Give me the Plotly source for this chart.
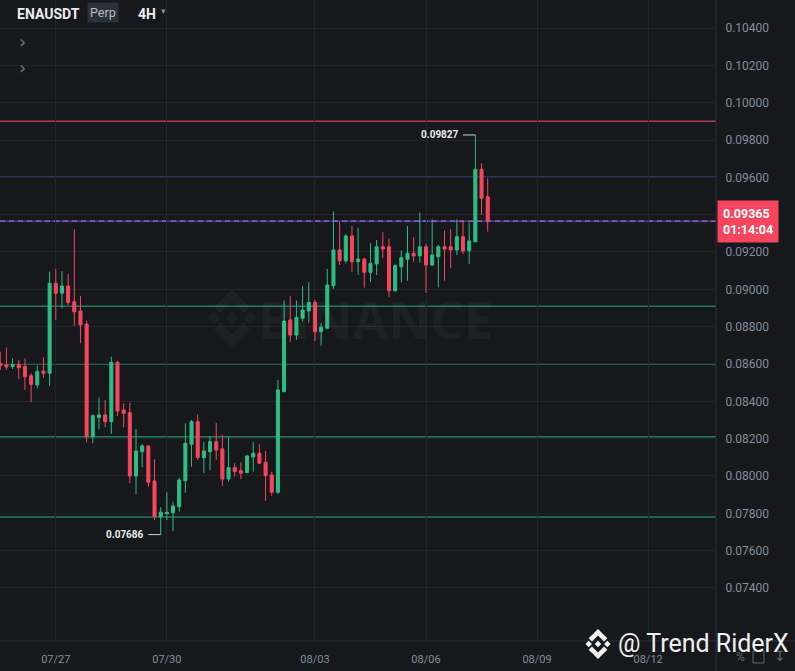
import plotly.graph_objects as go
import pandas as pd

# ---------------- data ----------------
start_time = "2024-07-25 12:00"
n_candles = 80
times = pd.date_range(start_time, periods=n_candles, freq="4h")

opens = [0.08602, 0.08595, 0.08586, 0.08596, 0.08586, 0.08537, 0.08488, 0.08562, 0.08550, 0.09032,
         0.08979, 0.09018, 0.08934, 0.08884, 0.08814, 0.08211, 0.08314, 0.08327, 0.08291, 0.08609,
         0.08354, 0.08339, 0.08000, 0.08130, 0.08161, 0.07973, 0.07782, 0.07799, 0.07803, 0.07836,
         0.07975, 0.08170, 0.08291, 0.08098, 0.08130, 0.08184, 0.08145, 0.07984, 0.08045, 0.08028,
         0.08018, 0.08102, 0.08122, 0.08073, 0.08005, 0.07913, 0.08452, 0.08836, 0.08755, 0.08845,
         0.08884, 0.08930, 0.08773, 0.08791, 0.09019, 0.09211, 0.09153, 0.09286, 0.09148, 0.09162,
         0.09091, 0.09136, 0.09228, 0.09228, 0.08993, 0.09121, 0.09161, 0.09193, 0.09179, 0.09228,
         0.09130, 0.09175, 0.09228, 0.09228, 0.09211, 0.09282, 0.09207, 0.09255, 0.09643, 0.09496]
highs = [0.08666, 0.08688, 0.08630, 0.08621, 0.08630, 0.08550, 0.08591, 0.08636, 0.09095, 0.09109,
         0.09098, 0.09082, 0.09321, 0.08964, 0.08832, 0.08330, 0.08420, 0.08407, 0.08639, 0.08618,
         0.08389, 0.08393, 0.08252, 0.08171, 0.08165, 0.08089, 0.07832, 0.07913, 0.07862, 0.07991,
         0.08282, 0.08300, 0.08331, 0.08181, 0.08213, 0.08284, 0.08220, 0.08209, 0.08068, 0.08073,
         0.08113, 0.08181, 0.08170, 0.08134, 0.08023, 0.08514, 0.08941, 0.08964, 0.08940, 0.09019,
         0.09038, 0.08943, 0.08818, 0.09109, 0.09416, 0.09359, 0.09295, 0.09339, 0.09330, 0.09169,
         0.09247, 0.09264, 0.09306, 0.09273, 0.09134, 0.09207, 0.09339, 0.09279, 0.09411, 0.09243,
         0.09375, 0.09238, 0.09314, 0.09322, 0.09375, 0.09368, 0.09357, 0.09827, 0.09675, 0.09595]
lows = [0.08568, 0.08568, 0.08573, 0.08520, 0.08461, 0.08395, 0.08470, 0.08527, 0.08482, 0.08836,
        0.08898, 0.08916, 0.08805, 0.08711, 0.08180, 0.08175, 0.08249, 0.08261, 0.08225, 0.08321,
        0.08261, 0.07961, 0.07904, 0.08047, 0.07943, 0.07764, 0.07686, 0.07764, 0.07705, 0.07809,
        0.07911, 0.08050, 0.08086, 0.08015, 0.08032, 0.08086, 0.07948, 0.07970, 0.07996, 0.07984,
        0.08015, 0.08023, 0.08064, 0.07866, 0.07895, 0.07904, 0.08448, 0.08719, 0.08729, 0.08827,
        0.08821, 0.08723, 0.08698, 0.08788, 0.09002, 0.09130, 0.09139, 0.09094, 0.09077, 0.09009,
        0.09038, 0.09077, 0.09166, 0.08957, 0.08987, 0.09038, 0.09046, 0.09148, 0.09143, 0.08982,
        0.09125, 0.09011, 0.09046, 0.09113, 0.09184, 0.09189, 0.09136, 0.09252, 0.09398, 0.09309]
closes = [0.08591, 0.08584, 0.08596, 0.08580, 0.08532, 0.08491, 0.08559, 0.08550, 0.09032, 0.08979,
          0.09018, 0.08929, 0.08880, 0.08809, 0.08211, 0.08323, 0.08327, 0.08291, 0.08609, 0.08348,
          0.08336, 0.08000, 0.08134, 0.08161, 0.07966, 0.07782, 0.07806, 0.07805, 0.07839, 0.07979,
          0.08175, 0.08291, 0.08099, 0.08134, 0.08184, 0.08139, 0.07984, 0.08045, 0.08023, 0.08015,
          0.08107, 0.08122, 0.08068, 0.08002, 0.07913, 0.08461, 0.08830, 0.08755, 0.08849, 0.08889,
          0.08930, 0.08773, 0.08797, 0.09023, 0.09211, 0.09153, 0.09286, 0.09148, 0.09162, 0.09091,
          0.09139, 0.09228, 0.09216, 0.08993, 0.09127, 0.09169, 0.09193, 0.09179, 0.09228, 0.09130,
          0.09184, 0.09228, 0.09216, 0.09211, 0.09282, 0.09205, 0.09259, 0.09643, 0.09488, 0.09365]

level_prices = [0.0990, 0.0960, 0.0891, 0.0860, 0.0821, 0.0778]
level_colors = ["#a8414b", "#3a4fb5", "#1f7d5d", "#1f7d5d", "#1f7d5d", "#1f7d5d"]

price_ticks = [0.074, 0.076, 0.078, 0.080, 0.082, 0.084, 0.086, 0.088, 0.090,
               0.092, 0.094, 0.096, 0.098, 0.100, 0.102, 0.104]
date_ticks = ["2024-07-27", "2024-07-30", "2024-08-03", "2024-08-06", "2024-08-09", "2024-08-12"]
date_labels = ["07/27", "07/30", "08/03", "08/06", "08/09", "08/12"]

symbol = "ENAUSDT"
contract = "Perp"
interval = "4H"
countdown = "01:14:04"

# ---------------- style ----------------
BG = "#17181c"
GRID = "#23262b"
AXIS_TXT = "#848e9c"
GREEN = "#2ebd85"
RED = "#f6465d"
PLOT_W, PLOT_H = 716, 641


def px(x, y):
    return x / PLOT_W, 1 - y / PLOT_H


fig = go.Figure()
fig.add_trace(go.Candlestick(
    x=times, open=opens, high=highs, low=lows, close=closes,
    increasing=dict(line=dict(color=GREEN, width=1), fillcolor=GREEN),
    decreasing=dict(line=dict(color=RED, width=1), fillcolor=RED),
    whiskerwidth=0, showlegend=False, hoverinfo="skip",
))

shapes = []
for p, c in zip(level_prices, level_colors):
    shapes.append(dict(type="line", xref="paper", yref="y", x0=0, x1=1, y0=p, y1=p,
                       line=dict(color=c, width=1.5), layer="below"))
last_close = closes[-1]
shapes.append(dict(type="line", xref="paper", yref="y", x0=0, x1=1, y0=last_close, y1=last_close,
                   line=dict(color="#3a4fb5", width=1.3), layer="below"))
shapes.append(dict(type="line", xref="paper", yref="y", x0=0, x1=1, y0=last_close, y1=last_close,
                   line=dict(color="#c05ad0", width=1.2, dash="5px,4px"), layer="below"))

# high / low leader lines
i_hi = highs.index(max(highs))
i_lo = lows.index(min(lows))
for i, val in ((i_hi, highs[i_hi]), (i_lo, lows[i_lo])):
    shapes.append(dict(type="line", xref="x", yref="y",
                       x0=times[i] - pd.Timedelta(hours=8), x1=times[i], y0=val, y1=val,
                       line=dict(color="#d0d4da", width=1)))

# frame lines extending into axis areas
shapes.append(dict(type="line", xref="paper", yref="paper", x0=1, x1=1, y0=-30 / PLOT_H, y1=1,
                   line=dict(color="#2b2f36", width=1)))
shapes.append(dict(type="line", xref="paper", yref="paper", x0=0, x1=795 / PLOT_W, y0=0, y1=0,
                   line=dict(color="#2b2f36", width=1)))


# Binance logo paths
def logo_path(cx, cy, r):
    polys = [
        [(0, 1), (0.62, 0.38), (0.4, 0.16), (0, 0.56), (-0.4, 0.16), (-0.62, 0.38)],
        [(0, -1), (0.62, -0.38), (0.4, -0.16), (0, -0.56), (-0.4, -0.16), (-0.62, -0.38)],
        [(0, 0.22), (0.22, 0), (0, -0.22), (-0.22, 0)],
        [(-0.62, 0.22), (-0.4, 0), (-0.62, -0.22), (-0.84, 0)],
        [(0.62, 0.22), (0.84, 0), (0.62, -0.22), (0.4, 0)],
    ]
    out = ""
    for poly in polys:
        pts = [px(cx + dx * r, cy - dy * r) for dx, dy in poly]
        out += "M" + " L".join(f"{a:.5f},{b:.5f}" for a, b in pts) + " Z "
    return out


shapes.append(dict(type="path", xref="paper", yref="paper", path=logo_path(232, 318, 29),
                   fillcolor="rgba(255,255,255,0.035)", line=dict(width=0), layer="below"))
shapes.append(dict(type="path", xref="paper", yref="paper", path=logo_path(598, 644, 15),
                   fillcolor="#f0f0f0", line=dict(width=0)))
# small icon box bottom right
bx0, by0 = px(753, 651)
bx1, by1 = px(764, 663)
shapes.append(dict(type="rect", xref="paper", yref="paper", x0=bx0, x1=bx1, y0=by1, y1=by0,
                   line=dict(color="#5e6673", width=1)))

annotations = []


def ann(x, y, text, size, color, bold=False, anchor="left", bg=None, family="Roboto", pad=0):
    ax, ay = px(x, y)
    d = dict(xref="paper", yref="paper", x=ax, y=ay, text=f"<b>{text}</b>" if bold else text,
             showarrow=False, xanchor=anchor, yanchor="middle",
             font=dict(size=size, color=color, family=family))
    if bg:
        d["bgcolor"] = bg
        d["borderpad"] = pad
    annotations.append(d)


ann(15, 14, symbol, 14, "#eaecef", bold=True)
ann(87, 13, contract, 12.5, "#b7bdc6", bg="#2b3139", pad=2)
ann(136, 14, interval, 14, "#eaecef", bold=True)
ann(159, 11, "▾", 9, AXIS_TXT, family="DejaVu Sans")
ann(17, 42, "›", 18, "#707a8a", family="DejaVu Sans")
ann(17, 68, "›", 18, "#707a8a", family="DejaVu Sans")
ann(256, 318, "BINANCE", 52, "rgba(255,255,255,0.035)", bold=True, family="Open Sans")
ann(616, 643, "@ Trend RiderX", 25, "#f0f0f0", family="Roboto")
ann(734, 657, "%", 12, "#5e6673")
ann(772, 656, "↧", 14, "#5e6673", family="DejaVu Sans")

# price label box on axis
annotations.append(dict(xref="paper", yref="y", x=1.0015, y=last_close,
                        text=f"<b>{last_close:.5f}</b><br><b>{countdown}</b>", showarrow=False,
                        xanchor="left", yanchor="middle", align="left",
                        font=dict(size=12.5, color="#ffffff", family="Roboto"),
                        bgcolor=RED, borderpad=5))

# high / low texts
annotations.append(dict(xref="x", yref="y", x=times[i_hi] - pd.Timedelta(hours=8), y=highs[i_hi],
                        xshift=-2, text=f"<b>{highs[i_hi]:.5f}</b>", showarrow=False, xanchor="right",
                        yanchor="middle", font=dict(size=10, color="#eaecef", family="Roboto")))
annotations.append(dict(xref="x", yref="y", x=times[i_lo] - pd.Timedelta(hours=8), y=lows[i_lo],
                        xshift=-2, text=f"<b>{lows[i_lo]:.5f}</b>", showarrow=False, xanchor="right",
                        yanchor="middle", font=dict(size=10, color="#eaecef", family="Roboto")))

fig.update_layout(
    width=795, height=671,
    margin=dict(l=0, r=795 - PLOT_W, t=0, b=671 - PLOT_H),
    paper_bgcolor=BG, plot_bgcolor=BG,
    showlegend=False,
    shapes=shapes, annotations=annotations,
    font=dict(family="Roboto", color=AXIS_TXT),
    xaxis=dict(
        type="date", range=["2024-07-25 11:50", "2024-08-13 20:00"],
        tickvals=date_ticks, ticktext=date_labels,
        showgrid=True, gridcolor=GRID, gridwidth=1,
        zeroline=False, showline=False,
        ticks="outside", ticklen=8, tickcolor=BG,
        tickfont=dict(size=11, color=AXIS_TXT, family="Roboto"),
        rangeslider=dict(visible=False), fixedrange=True,
    ),
    yaxis=dict(
        side="right", range=[0.07116, 0.1055],
        tickvals=price_ticks, tickformat=".5f",
        showgrid=True, gridcolor=GRID, gridwidth=1,
        zeroline=False, showline=False,
        ticks="outside", ticklen=6, tickcolor=BG,
        tickfont=dict(size=12, color=AXIS_TXT, family="Roboto"),
        fixedrange=True,
    ),
)

fig.write_html(
    "out.html",
    config={"displayModeBar": False},
    post_script="document.body.style.margin='0';document.body.style.background='#17181c';",
)
